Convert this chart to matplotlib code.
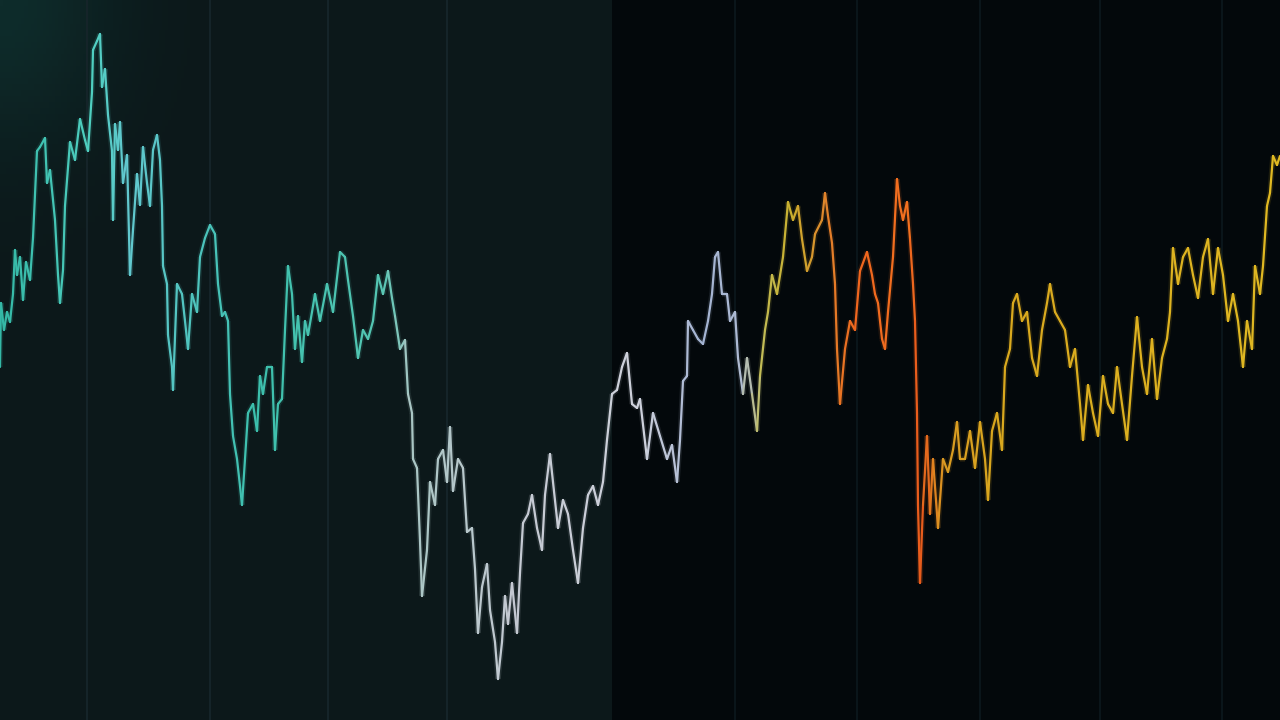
import numpy as np
import matplotlib
matplotlib.use("Agg")
import matplotlib.pyplot as plt
from matplotlib.collections import LineCollection
from matplotlib.colors import LinearSegmentedColormap

# time steps and price levels
t = [0, 1, 4, 7, 10, 13, 15, 17, 20, 23, 26, 30, 33, 37, 40, 45, 47, 50, 53, 55,
     58, 60, 63, 65, 70, 75, 80, 85, 88, 92, 93, 97, 100, 102, 105, 108, 112, 113, 115, 118,
     120, 123, 127, 130, 133, 137, 140, 143, 147, 150, 153, 157, 160, 162, 163, 167, 168, 172, 173, 177,
     182, 185, 188, 192, 197, 200, 205, 210, 215, 218, 222, 225, 228, 230, 233, 237, 240, 242, 245, 248,
     253, 257, 260, 263, 267, 272, 275, 278, 282, 285, 288, 292, 295, 298, 302, 305, 308, 312, 315, 320,
     327, 333, 340, 345, 348, 353, 358, 363, 368, 373, 378, 383, 388, 392, 395, 400, 405, 408, 412, 413,
     417, 420, 422, 427, 430, 435, 438, 443, 447, 450, 453, 458, 463, 467, 472, 475, 478, 482, 487, 490,
     495, 498, 502, 505, 508, 512, 517, 520, 523, 528, 532, 537, 542, 545, 550, 553, 558, 563, 568, 573,
     578, 583, 588, 593, 598, 603, 607, 612, 617, 622, 627, 632, 637, 640,
     647, 653, 660, 667, 672, 677, 680, 683, 687, 688, 693, 698, 703, 708, 712, 715, 718, 722, 727, 730,
     735, 738, 743, 747, 752, 757, 760, 765, 768, 772, 777, 783, 788, 793, 798, 802, 807, 812, 815, 822,
     825, 828, 832, 835, 837, 840, 845, 850, 855, 860, 867, 872, 875, 878, 882, 885, 888, 893, 897, 900,
     903, 907, 910, 913, 915, 917, 918, 920, 923, 927, 930, 933, 938, 943, 948, 953, 957, 960,
     965, 970, 975, 980, 985, 988, 992, 997, 1002, 1005, 1010, 1013, 1017, 1022, 1027, 1032, 1037, 1042, 1047, 1050,
     1055, 1060, 1065, 1070, 1075, 1080, 1083, 1088, 1093, 1098, 1103, 1108, 1113, 1117, 1122, 1127, 1132, 1137, 1142, 1147,
     1152, 1157, 1162, 1167, 1170, 1173, 1178, 1183, 1188, 1193, 1198, 1203, 1208, 1213, 1218, 1223, 1228, 1233, 1238, 1243,
     1247, 1252, 1255, 1260, 1263, 1267, 1270, 1273, 1277, 1280]

price = [353, 417, 390, 408, 398, 426, 470, 445, 463, 420, 458, 440, 482, 569, 573, 582, 537, 550, 520, 500,
         445, 417, 450, 514, 578, 560, 601, 580, 569, 628, 670, 679, 686, 633, 651, 605, 569, 500, 596, 570,
         598, 537, 565, 445, 490, 546, 515, 573, 537, 514, 570, 585, 560, 514, 454, 436, 385, 353, 330, 436,
         426, 399, 371, 426, 408, 463, 482, 495, 486, 436, 404, 408, 399, 326, 284, 261, 234, 215, 261, 307,
         316, 289, 344, 326, 353, 353, 270, 316, 321, 390, 454, 426, 371, 404, 358, 399, 385, 408, 426, 399,
         436, 408, 468, 463, 440, 404, 362, 390, 381, 399, 445, 426, 449, 422, 404, 371, 380, 326, 307, 261,
         252, 179, 124, 170, 238, 215, 261, 270, 238, 293, 229, 261, 252, 188, 192, 151, 87, 133, 156, 110,
         78, 41, 78, 124, 96, 137, 87, 147, 197, 206, 225, 192, 170, 225, 266, 238, 192, 220, 206, 170,
         137, 192, 225, 234, 215, 238, 280, 326, 330, 353, 367, 316, 312, 321,
         261, 307, 284, 261, 275, 238, 280, 339, 344, 399, 390, 381, 376, 399, 426, 463, 468, 426, 426, 399,
         408, 362, 326, 362, 326, 289, 344, 390, 408, 445, 426, 463, 518, 500, 514, 481, 449, 463, 486, 500,
         527, 504, 477, 436, 371, 316, 371, 399, 390, 449, 468, 445, 426, 417, 381, 371, 408, 463, 541, 514,
         500, 518, 481, 436, 399, 307, 215, 137, 215, 284, 206, 261, 192, 261, 248, 270, 298, 261,
         261, 289, 252, 298, 261, 220, 289, 307, 270, 353, 371, 417, 426, 399, 408, 362, 344, 390, 417, 436,
         408, 399, 390, 353, 371, 316, 280, 335, 307, 284, 344, 316, 307, 353, 316, 280, 344, 403, 353, 326,
         381, 321, 362, 381, 408, 472, 436, 463, 472, 445, 422, 463, 481, 426, 472, 445, 399, 426, 399, 353,
         399, 371, 454, 426, 454, 514, 527, 564, 555, 564]

grid_t = [87, 210, 328, 447, 735, 857, 980, 1100, 1222]
split_t = 612

line_colors = [(0.00, "#34b8a6"), (0.07, "#4fcfc0"), (0.10, "#62c8cf"), (0.20, "#3cc0ad"),
               (0.30, "#55c6b3"), (0.32, "#a9c6c4"), (0.40, "#c4c9d2"), (0.50, "#cfd2dc"),
               (0.55, "#a3b3d2"), (0.58, "#aebbd4"), (0.595, "#c2bd58"), (0.62, "#c9b02e"),
               (0.645, "#e0852c"), (0.67, "#f0661e"), (0.71, "#f2701f"), (0.72, "#e8571b"),
               (0.74, "#d99a22"), (0.78, "#d9a81e"), (1.00, "#e0b922")]

fig = plt.figure(figsize=(12.8, 7.2), dpi=100)
fig.patch.set_facecolor("#03080b")
ax = fig.add_axes([0, 0, 1, 1])
ax.set_facecolor("#03080b")

# lighter left panel with a faint teal glow in the top-left corner
gx, gy = np.meshgrid(np.linspace(0, 1, 200), np.linspace(0, 1, 120))
glow = np.exp(-((gx / 0.18) ** 2 + (gy / 0.2) ** 2))
base = np.array([0x0c, 0x18, 0x1a]) / 255
tint = np.array([0x0e, 0x2c, 0x2b]) / 255
img = base + glow[..., None] * (tint - base)
ax.imshow(img, extent=[0, split_t, 0, 720], origin="upper", aspect="auto", zorder=0)
ax.set_xlim(0, 1280)
ax.set_ylim(0, 720)

for g in grid_t:
    col = "#16252a" if g < split_t else "#0b161b"
    ax.axvline(g, color=col, lw=1.4, zorder=1)

x = np.array(t, dtype=float)
y = np.array(price, dtype=float)
pts = np.column_stack([x, y]).reshape(-1, 1, 2)
segs = np.concatenate([pts[:-1], pts[1:]], axis=1)
cmap = LinearSegmentedColormap.from_list("trail", line_colors)
cols = cmap((x[:-1] + x[1:]) / 2 / 1280)

ax.add_collection(LineCollection(segs, colors=cols, linewidths=4, alpha=0.12, zorder=2))
ax.add_collection(LineCollection(segs, colors=cols, linewidths=1.6, zorder=3,
                                 capstyle="round", joinstyle="miter"))

ax.set_axis_off()
fig.savefig("out.png", dpi=100, facecolor=fig.get_facecolor())
